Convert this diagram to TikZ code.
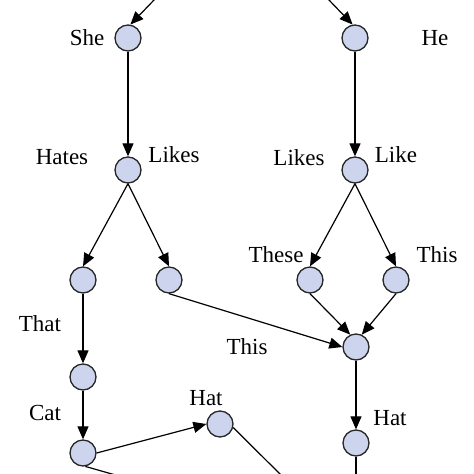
\documentclass[tikz,border=0pt]{standalone}
\usepackage{fontspec}
\setmainfont{Liberation Serif}
\usetikzlibrary{arrows.meta}
\definecolor{wordfill}{RGB}{205,213,238}
\tikzset{
  word/.style={circle,draw=black!85,fill=wordfill,line width=1.3pt,minimum size=26pt,inner sep=0pt},
  lbl/.style={font=\fontsize{23}{27}\selectfont,inner sep=0pt},
}
\begin{document}
\begin{tikzpicture}[x=1pt,y=-1pt,>={Triangle[length=13pt,width=11pt]},line width=1.2pt]
      \useasboundingbox (0,0) rectangle (474,474);
      \draw
        (128,38) node[word] (0){}
        (355,38) node[word] (1){}
        (128,170) node[word] (2){}
        (355,170) node[word] (3){}
        (83,280) node[word] (4){}
        (169,280) node[word] (5){}
        (310,280) node[word] (6){}
        (396,280) node[word] (7){}
        (356,347) node[word] (8){}
        (83,377) node[word] (9){}
        (83,453) node[word] (10){}
        (220,424) node[word] (11){}
        (356,443) node[word] (12){};
      \coordinate (in0) at (155,-1);
      \coordinate (in1) at (328,-1);
      \coordinate (out0) at (119,476);
      \coordinate (out1) at (282,476);
      \coordinate (out2) at (356,476);
      \draw
        (87,38) node[lbl] (l0){She}
        (435,38) node[lbl] (l1){He}
        (62,157) node[lbl] (l2){Hates}
        (174,155) node[lbl] (l3){Likes}
        (299,158) node[lbl] (l4){Likes}
        (396,155) node[lbl] (l5){Like}
        (276,255) node[lbl] (l6){These}
        (437,255) node[lbl] (l7){This}
        (40,324) node[lbl] (l8){That}
        (247,347) node[lbl] (l9){This}
        (45,413) node[lbl] (l10){Cat}
        (206,398) node[lbl] (l11){Hat}
        (390,418) node[lbl] (l12){Hat};
      \begin{scope}[->]
        \draw (in0) to (0.80);
        \draw (in1) to (1.100);
        \draw (0) to (2);
        \draw (1) to (3);
        \draw (2.south) to (4.north);
        \draw (2.south) to (5.north);
        \draw (3.south) to (6.north);
        \draw (3.south) to (7.north);
        \draw (4) to (9);
        \draw (9) to (10);
        \draw (10.east) to (11.west);
        \draw (5.south) to (8.west);
        \draw (6.south) to (8.115);
        \draw (7.south) to (8.65);
        \draw (8) to (12);
      \end{scope}
      \begin{scope}[-]
        \draw (10.-80) to (out0);
        \draw (11.-15) to (out1);
        \draw (12) to (out2);
      \end{scope}
    \end{tikzpicture}
\end{document}
